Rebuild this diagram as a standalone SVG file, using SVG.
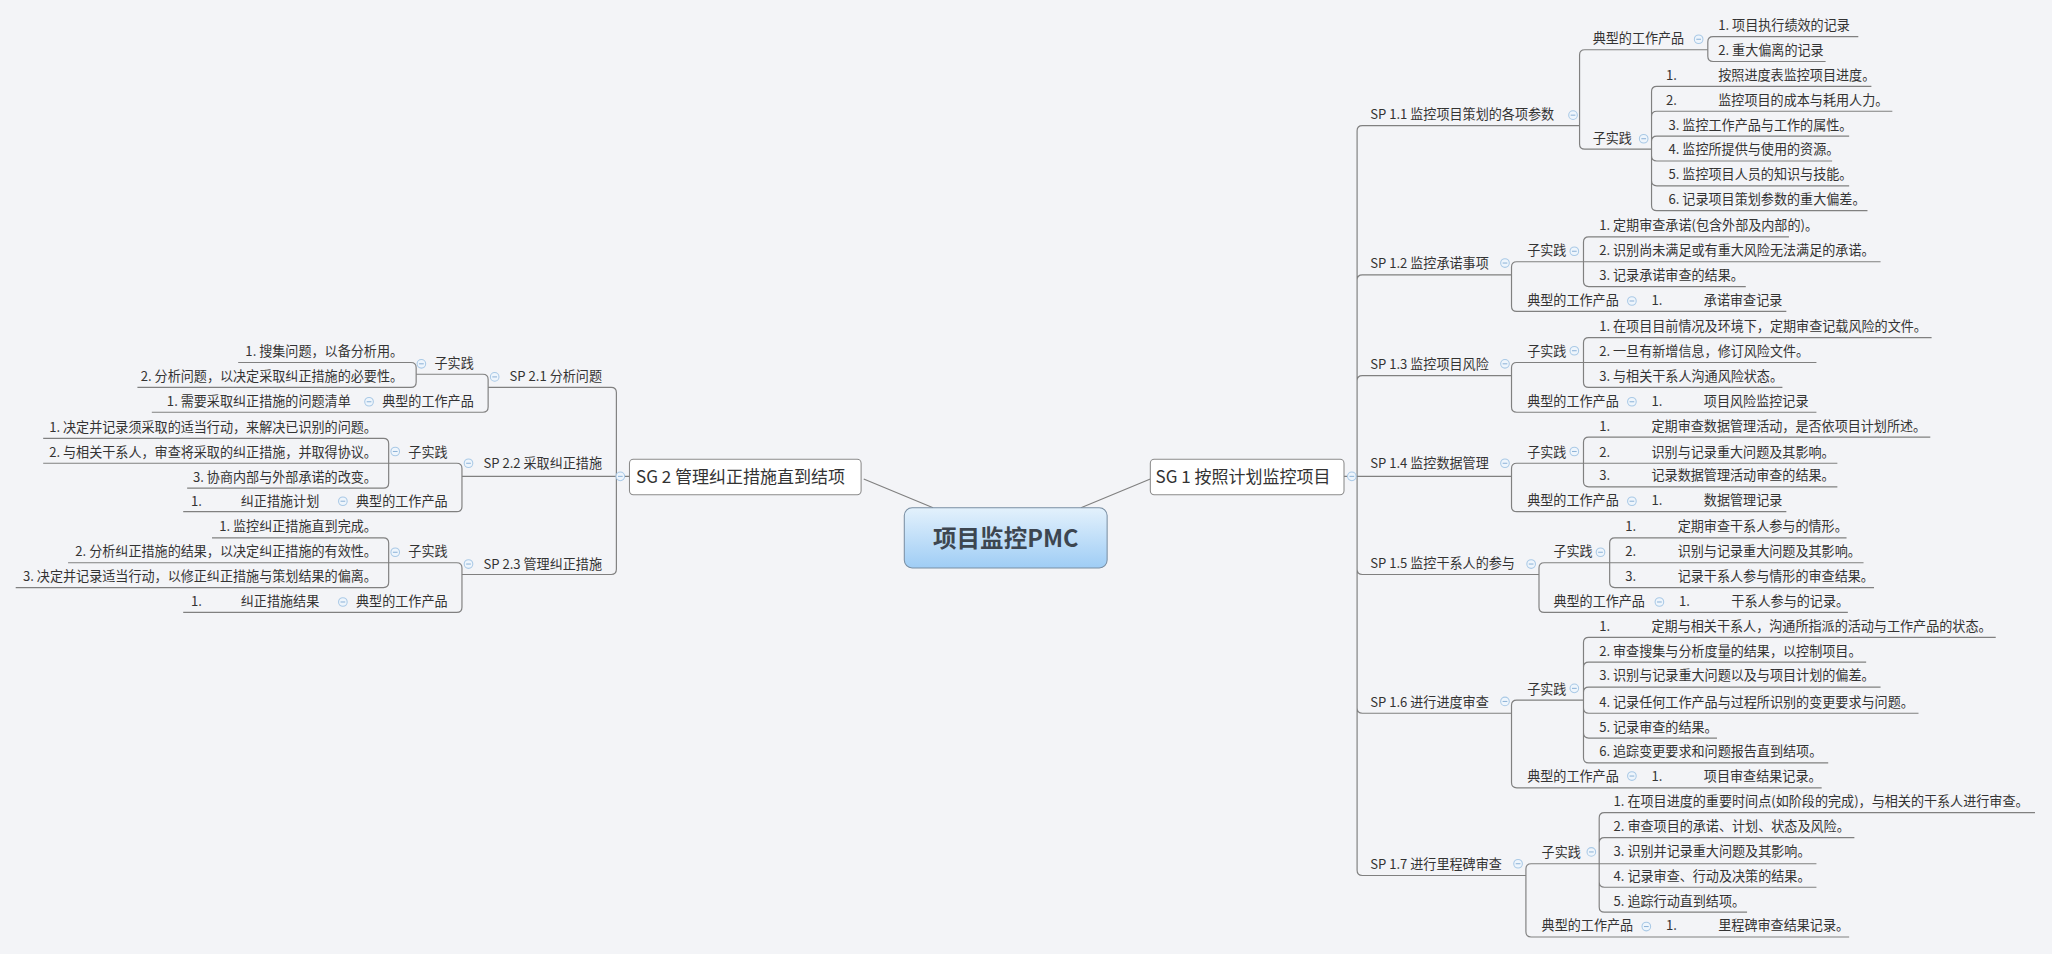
<svg xmlns="http://www.w3.org/2000/svg" width="2052" height="954" viewBox="0 0 2052 954">
<defs>
<linearGradient id="cg" x1="0" y1="0" x2="0" y2="1"><stop offset="0" stop-color="#e3f1fc"/><stop offset="1" stop-color="#9fcdf5"/></linearGradient>
<g id="c"><circle r="3.3" fill="#eef5fc" stroke="#a9c9e6" stroke-width="0.8"/><path d="M-1.8 0H1.8" stroke="#8fb4d8" stroke-width="0.8"/></g>
</defs>
<style>
text{font-family:"Noto Sans CJK SC","Noto Sans",sans-serif;font-size:10px;fill:#333}
.e{text-anchor:end}
.l path{fill:none;stroke:#808080;stroke-width:0.9}
.sg{font-size:13px}
</style>
<rect width="2052" height="954" fill="#f3f4f7"/>
<g transform="scale(1.30867)">
<g class="l" id="connectors">
<path d="M660 366L713 388M879 366L826 388"/>
<path d="M1027 364H1037M1037 364V100Q1037 96 1041 96H1207M1037 364V214Q1037 210 1041 210H1155M1037 364V291Q1037 287 1041 287H1155M1037 364H1155M1037 364V435Q1037 439 1041 439H1176M1037 364V541Q1037 545 1041 545H1155M1037 364V665Q1037 669 1041 669H1166"/>
<path d="M1207 96V42Q1207 38 1211 38H1305M1207 96V110Q1207 114 1211 114H1262"/>
<path d="M1305 38V32Q1305 28 1309 28H1420M1305 38V43Q1305 47 1309 47H1395"/>
<path d="M1262 114V70Q1262 66 1266 66H1430M1262 114V89Q1262 85 1266 85H1446M1262 114V108Q1262 104 1266 104H1413M1262 114V119Q1262 123 1266 123H1400M1262 114V138Q1262 142 1266 142H1413M1262 114V157Q1262 161 1266 161H1427"/>
<path d="M1155 210V204Q1155 200 1159 200H1210M1155 210V234Q1155 238 1159 238H1365"/>
<path d="M1210 200V185Q1210 181 1214 181H1367M1210 200H1437M1210 200V215Q1210 219 1214 219H1334"/>
<path d="M1155 287V281Q1155 277 1159 277H1210M1155 287V311Q1155 315 1159 315H1388"/>
<path d="M1210 277V262Q1210 258 1214 258H1476M1210 277H1388M1210 277V292Q1210 296 1214 296H1362"/>
<path d="M1155 364V358Q1155 354 1159 354H1210M1155 364V387Q1155 391 1159 391H1365"/>
<path d="M1210 354V338Q1210 334 1214 334H1475M1210 354H1404M1210 354V368Q1210 372 1214 372H1404"/>
<path d="M1176 439V434Q1176 430 1180 430H1230M1176 439V464Q1176 468 1180 468H1412"/>
<path d="M1230 430V415Q1230 411 1234 411H1411M1230 430H1424M1230 430V445Q1230 449 1234 449H1432"/>
<path d="M1155 545V539Q1155 535 1159 535H1210M1155 545V598Q1155 602 1159 602H1392"/>
<path d="M1210 535V491Q1210 487 1214 487H1525M1210 535V510Q1210 506 1214 506H1426M1210 535V529Q1210 525 1214 525H1437M1210 535V541Q1210 545 1214 545H1466M1210 535V560Q1210 564 1214 564H1312M1210 535V579Q1210 583 1214 583H1397"/>
<path d="M1166 669V664Q1166 660 1170 660H1222M1166 669V712Q1166 716 1170 716H1413"/>
<path d="M1222 660V625Q1222 621 1226 621H1555M1222 660V644Q1222 640 1226 640H1417M1222 660H1388M1222 660V674Q1222 678 1226 678H1388M1222 660V693Q1222 697 1226 697H1335"/>
<path d="M481 364H471M471 364V300Q471 296 467 296H373M471 364H353M471 364V435Q471 439 467 439H353"/>
<path d="M373 296V290Q373 286 369 286H318M373 296V311Q373 315 369 315H116"/>
<path d="M318 286V281Q318 277 314 277H182M318 286V292Q318 296 314 296H105"/>
<path d="M353 364V358Q353 354 349 354H297M353 364V387Q353 391 349 391H140"/>
<path d="M297 354V339Q297 335 293 335H33M297 354H33M297 354V369Q297 373 293 373H143"/>
<path d="M353 439V434Q353 430 349 430H297M353 439V464Q353 468 349 468H140"/>
<path d="M297 430V415Q297 411 293 411H162M297 430H52M297 430V445Q297 449 293 449H12"/>
</g>
<g id="center"><rect x="691" y="388" width="155" height="46" rx="6" fill="url(#cg)" stroke="#7a8fa3" stroke-width="0.8"/><text x="768.5" y="418" text-anchor="middle" style="font-size:18px;font-weight:bold;fill:#3d4650">项目监控PMC</text></g>
<g id="sg1"><rect x="879" y="351" width="148" height="27" rx="3" fill="#fff" stroke="#8a8a8a" stroke-width="0.8"/><text class="sg" x="883" y="369">SG 1 按照计划监控项目</text><use href="#c" x="1033" y="364"/></g>
<g id="sg2"><rect x="481" y="351" width="177" height="27" rx="3" fill="#fff" stroke="#8a8a8a" stroke-width="0.8"/><text class="sg" x="486" y="369">SG 2 管理纠正措施直到结项</text><use href="#c" x="474" y="364"/></g>
<g id="sp11"><text x="1047" y="91">SP 1.1 监控项目策划的各项参数</text><use href="#c" x="1202" y="88"/>
<text x="1217" y="33">典型的工作产品</text><use href="#c" x="1298" y="30"/>
<text x="1313" y="23">1. 项目执行绩效的记录</text><text x="1313" y="42">2. 重大偏离的记录</text>
<text x="1217" y="109">子实践</text><use href="#c" x="1256" y="106"/>
<text x="1273" y="61">1.<tspan x="1313">按照进度表监控项目进度。</tspan></text>
<text x="1273" y="80">2.<tspan x="1313">监控项目的成本与耗用人力。</tspan></text>
<text x="1275" y="99">3. 监控工作产品与工作的属性。</text>
<text x="1275" y="118">4. 监控所提供与使用的资源。</text>
<text x="1275" y="137">5. 监控项目人员的知识与技能。</text>
<text x="1275" y="156">6. 记录项目策划参数的重大偏差。</text></g>
<g id="sp12"><text x="1047" y="205">SP 1.2 监控承诺事项</text><use href="#c" x="1150" y="201"/>
<text x="1167" y="195">子实践</text><use href="#c" x="1203" y="192"/>
<text x="1222" y="176">1. 定期审查承诺(包含外部及内部的)。</text>
<text x="1222" y="195">2. 识别尚未满足或有重大风险无法满足的承诺。</text>
<text x="1222" y="214">3. 记录承诺审查的结果。</text>
<text x="1167" y="233">典型的工作产品</text><use href="#c" x="1247" y="230"/>
<text x="1262" y="233">1.<tspan x="1302">承诺审查记录</tspan></text></g>
<g id="sp13"><text x="1047" y="282">SP 1.3 监控项目风险</text><use href="#c" x="1150" y="278"/>
<text x="1167" y="272">子实践</text><use href="#c" x="1203" y="268"/>
<text x="1222" y="253">1. 在项目目前情况及环境下，定期审查记载风险的文件。</text>
<text x="1222" y="272">2. 一旦有新增信息，修订风险文件。</text>
<text x="1222" y="291">3. 与相关干系人沟通风险状态。</text>
<text x="1167" y="310">典型的工作产品</text><use href="#c" x="1247" y="307"/>
<text x="1262" y="310">1.<tspan x="1302">项目风险监控记录</tspan></text></g>
<g id="sp14"><text x="1047" y="358">SP 1.4 监控数据管理</text><use href="#c" x="1150" y="354"/>
<text x="1167" y="349">子实践</text><use href="#c" x="1203" y="345"/>
<text x="1222" y="329">1.<tspan x="1262">定期审查数据管理活动，是否依项目计划所述。</tspan></text>
<text x="1222" y="349">2.<tspan x="1262">识别与记录重大问题及其影响。</tspan></text>
<text x="1222" y="367">3.<tspan x="1262">记录数据管理活动审查的结果。</tspan></text>
<text x="1167" y="386">典型的工作产品</text><use href="#c" x="1247" y="383"/>
<text x="1262" y="386">1.<tspan x="1302">数据管理记录</tspan></text></g>
<g id="sp15"><text x="1047" y="434">SP 1.5 监控干系人的参与</text><use href="#c" x="1170" y="431"/>
<text x="1187" y="425">子实践</text><use href="#c" x="1223" y="422"/>
<text x="1242" y="406">1.<tspan x="1282">定期审查干系人参与的情形。</tspan></text>
<text x="1242" y="425">2.<tspan x="1282">识别与记录重大问题及其影响。</tspan></text>
<text x="1242" y="444">3.<tspan x="1282">记录干系人参与情形的审查结果。</tspan></text>
<text x="1187" y="463">典型的工作产品</text><use href="#c" x="1268" y="460"/>
<text x="1283" y="463">1.<tspan x="1323">干系人参与的记录。</tspan></text></g>
<g id="sp16"><text x="1047" y="540">SP 1.6 进行进度审查</text><use href="#c" x="1150" y="536"/>
<text x="1167" y="530">子实践</text><use href="#c" x="1203" y="526"/>
<text x="1222" y="482">1.<tspan x="1262">定期与相关干系人，沟通所指派的活动与工作产品的状态。</tspan></text>
<text x="1222" y="501">2. 审查搜集与分析度量的结果，以控制项目。</text>
<text x="1222" y="520">3. 识别与记录重大问题以及与项目计划的偏差。</text>
<text x="1222" y="540">4. 记录任何工作产品与过程所识别的变更要求与问题。</text>
<text x="1222" y="559">5. 记录审查的结果。</text>
<text x="1222" y="578">6. 追踪变更要求和问题报告直到结项。</text>
<text x="1167" y="597">典型的工作产品</text><use href="#c" x="1247" y="593"/>
<text x="1262" y="597">1.<tspan x="1302">项目审查结果记录。</tspan></text></g>
<g id="sp17"><text x="1047" y="664">SP 1.7 进行里程碑审查</text><use href="#c" x="1160" y="660"/>
<text x="1178" y="655">子实践</text><use href="#c" x="1216" y="651"/>
<text x="1233" y="616">1. 在项目进度的重要时间点(如阶段的完成)，与相关的干系人进行审查。</text>
<text x="1233" y="635">2. 审查项目的承诺、计划、状态及风险。</text>
<text x="1233" y="654">3. 识别并记录重大问题及其影响。</text>
<text x="1233" y="673">4. 记录审查、行动及决策的结果。</text>
<text x="1233" y="692">5. 追踪行动直到结项。</text>
<text x="1178" y="711">典型的工作产品</text><use href="#c" x="1258" y="708"/>
<text x="1273" y="711">1.<tspan x="1313">里程碑审查结果记录。</tspan></text></g>
<g id="sp21"><text class="e" x="460" y="291">SP 2.1 分析问题</text><use href="#c" x="378" y="288"/>
<text class="e" x="362" y="281">子实践</text><use href="#c" x="322" y="278"/>
<text class="e" x="308" y="272">1. 搜集问题，以备分析用。</text>
<text class="e" x="308" y="291">2. 分析问题，以决定采取纠正措施的必要性。</text>
<text class="e" x="362" y="310">典型的工作产品</text><use href="#c" x="282" y="307"/>
<text class="e" x="268" y="310">1. 需要采取纠正措施的问题清单</text></g>
<g id="sp22"><text class="e" x="460" y="358">SP 2.2 采取纠正措施</text><use href="#c" x="358" y="354"/>
<text class="e" x="342" y="349">子实践</text><use href="#c" x="302" y="345"/>
<text class="e" x="288" y="330">1. 决定并记录须采取的适当行动，来解决已识别的问题。</text>
<text class="e" x="288" y="349">2. 与相关干系人，审查将采取的纠正措施，并取得协议。</text>
<text class="e" x="288" y="368">3. 协商内部与外部承诺的改变。</text>
<text class="e" x="342" y="387">典型的工作产品</text><use href="#c" x="262" y="383"/>
<text x="146" y="387">1.<tspan x="184">纠正措施计划</tspan></text></g>
<g id="sp23"><text class="e" x="460" y="435">SP 2.3 管理纠正措施</text><use href="#c" x="358" y="431"/>
<text class="e" x="342" y="425">子实践</text><use href="#c" x="302" y="422"/>
<text class="e" x="288" y="406">1.  监控纠正措施直到完成。</text>
<text class="e" x="288" y="425">2. 分析纠正措施的结果，以决定纠正措施的有效性。</text>
<text class="e" x="288" y="444">3. 决定并记录适当行动，以修正纠正措施与策划结果的偏离。</text>
<text class="e" x="342" y="463">典型的工作产品</text><use href="#c" x="262" y="460"/>
<text x="146" y="463">1.<tspan x="184">纠正措施结果</tspan></text></g>
</g>
</svg>
